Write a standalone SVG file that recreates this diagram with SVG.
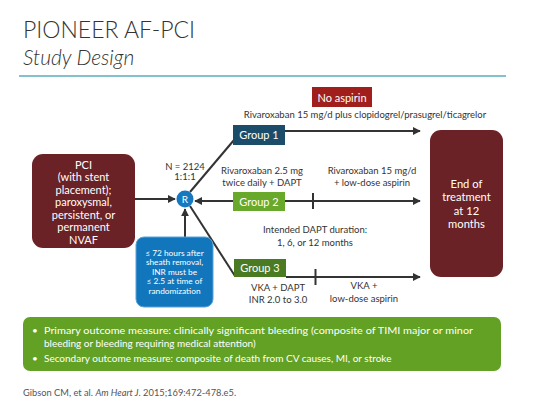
<svg xmlns="http://www.w3.org/2000/svg" width="540" height="405" viewBox="0 0 540 405">
<defs>
<marker id="ah" viewBox="0 0 10 10" refX="9" refY="5" markerWidth="4" markerHeight="4" orient="auto-start-reverse" markerUnits="strokeWidth">
<path d="M0,0 L10,5 L0,10 z" fill="#333"/>
</marker>
</defs>
<style>
text{font-family:Lato,"Liberation Sans",sans-serif;}
.t{fill:#333;font-size:9.5px;text-anchor:middle;}
.w{fill:#fff;text-anchor:middle;}
.c{stroke:#333;stroke-width:2;fill:none;}
.a{marker-end:url(#ah);}
</style>
<rect width="540" height="405" fill="#fff"/>
<g id="title">
<text x="23" y="38" font-size="23" font-weight="300" fill="#333">PIONEER AF-PCI</text>
<text x="23" y="65" font-size="21" font-weight="300" font-style="italic" fill="#333">Study Design</text>
<line x1="19" y1="76" x2="506" y2="76" stroke="#5aaebd" stroke-width="1.5"/>
</g>
<g id="connectors">
<line class="c a" x1="135" y1="199" x2="175" y2="199"/>
<line class="c a" x1="185" y1="237" x2="185" y2="209"/>
<line class="c" x1="190" y1="192" x2="234" y2="140"/>
<line class="c a" x1="234" y1="201" x2="195" y2="201"/>
<line class="c" x1="190" y1="206" x2="235" y2="276"/>
<line class="c a" x1="285" y1="131" x2="420" y2="131"/>
<line class="c a" x1="285" y1="201" x2="420" y2="201"/>
<line class="c a" x1="286" y1="277" x2="420" y2="277"/>
<line class="c" x1="313" y1="193" x2="313" y2="209"/>
<line class="c" x1="315.5" y1="269" x2="315.5" y2="285"/>
</g>
<g id="pci">
<rect x="32" y="154" width="103" height="94" rx="11" fill="#6b2226"/>
<text class="w" font-size="11"><tspan x="83.5" y="168.5">PCI</tspan><tspan x="83.5" y="181">(with stent</tspan><tspan x="83.5" y="193.5">placement);</tspan><tspan x="83.5" y="206">paroxysmal,</tspan><tspan x="83.5" y="218.5">persistent, or</tspan><tspan x="83.5" y="231">permanent</tspan><tspan x="83.5" y="243.5">NVAF</tspan></text>
</g>
<g id="r">
<text class="t" x="185" y="170" font-size="7.3">N = 2124</text>
<text class="t" x="185" y="179.5" font-size="7.3">1:1:1</text>
<circle cx="185" cy="199" r="8.5" fill="#1679c0"/>
<text class="w" x="185" y="203" font-size="10">R</text>
</g>
<g id="criteria">
<rect x="136" y="237" width="77" height="70" rx="8" fill="#1276bc" stroke="#5aa3d8" stroke-width="1"/>
<text class="w" font-size="8.3"><tspan x="174.5" y="255.5">≤ 72 hours after</tspan><tspan x="174.5" y="265">sheath removal,</tspan><tspan x="174.5" y="274.5">INR must be</tspan><tspan x="174.5" y="284">≤ 2.5 at time of</tspan><tspan x="174.5" y="293.5">randomization</tspan></text>
</g>
<g id="noaspirin">
<rect x="312" y="87" width="60" height="20" fill="#a01f1c"/>
<text class="w" x="342" y="101.5" font-size="11">No aspirin</text>
<text class="t" x="365" y="118">Rivaroxaban 15 mg/d plus clopidogrel/prasugrel/ticagrelor</text>
</g>
<g id="group1">
<rect x="233" y="125" width="52" height="20" fill="#1b4d6b"/>
<text class="w" x="259" y="139" font-size="11">Group 1</text>
</g>
<g id="group2">
<rect x="233" y="192" width="52" height="19" fill="#68a82a"/>
<text class="w" x="259" y="205.5" font-size="11">Group 2</text>
<text class="t"><tspan x="262" y="173.5">Rivaroxaban 2.5 mg</tspan><tspan x="262" y="185.5">twice daily + DAPT</tspan></text>
<text class="t"><tspan x="372" y="173.5">Rivaroxaban 15 mg/d</tspan><tspan x="372" y="185.5">+ low-dose aspirin</tspan></text>
<text class="t"><tspan x="315" y="232.5">Intended DAPT duration:</tspan><tspan x="315" y="245.5">1, 6, or 12 months</tspan></text>
</g>
<g id="group3">
<rect x="234" y="259" width="52" height="18" fill="#4a7a22"/>
<text class="w" x="260" y="272" font-size="11">Group 3</text>
<text class="t"><tspan x="278" y="291">VKA + DAPT</tspan><tspan x="278" y="303">INR 2.0 to 3.0</tspan></text>
<text class="t"><tspan x="364" y="289">VKA +</tspan><tspan x="364" y="301.5">low-dose aspirin</tspan></text>
</g>
<g id="end">
<rect x="430" y="130" width="73" height="147" rx="11" fill="#6b2226"/>
<text class="w" font-size="11.2"><tspan x="466.5" y="188">End of</tspan><tspan x="466.5" y="201.3">treatment</tspan><tspan x="466.5" y="214.6">at 12</tspan><tspan x="466.5" y="227.9">months</tspan></text>
</g>
<g id="outcomes">
<rect x="23" y="317" width="478" height="54" rx="7" fill="#63a124"/>
<g fill="#fff" font-size="10">
<text x="32" y="333.5">•</text>
<text x="44" y="333.5" textLength="429" lengthAdjust="spacingAndGlyphs">Primary outcome measure: clinically significant bleeding (composite of TIMI major or minor</text>
<text x="44" y="347">bleeding or bleeding requiring medical attention)</text>
<text x="32" y="361.5">•</text>
<text x="44" y="361.5">Secondary outcome measure: composite of death from CV causes, MI, or stroke</text>
</g>
</g>
<g id="citation">
<text x="23" y="396" font-size="9.3" fill="#555">Gibson CM, et al. <tspan font-style="italic">Am Heart J</tspan>. 2015;169:472-478.e5.</text>
</g>
</svg>
